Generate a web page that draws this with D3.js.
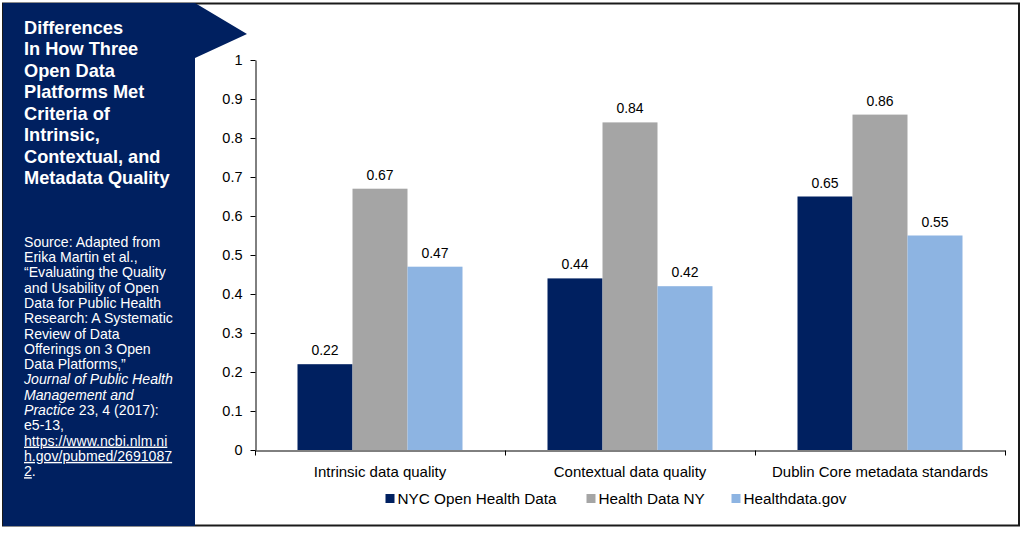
<!DOCTYPE html>
<html><head><meta charset="utf-8">
<script src="https://cdn.jsdelivr.net/npm/d3@7"></script>
<style>body{margin:0;background:#fff}svg{display:block;font-family:"Liberation Sans",Arial,sans-serif}</style>
</head><body>
<svg id="c" width="1024" height="533"></svg>
<script>
const categories = ["Intrinsic data quality", "Contextual data quality", "Dublin Core metadata standards"];
const seriesNames = ["NYC Open Health Data", "Health Data NY", "Healthdata.gov"];
const nycValues = [0.22, 0.44, 0.65];
const nyValues = [0.67, 0.84, 0.86];
const govValues = [0.47, 0.42, 0.55];
const yTicks = [0, 0.1, 0.2, 0.3, 0.4, 0.5, 0.6, 0.7, 0.8, 0.9, 1];
const titleLines = ["Differences", "In How Three", "Open Data", "Platforms Met", "Criteria of", "Intrinsic,", "Contextual, and", "Metadata Quality"];
const colors = ["#002060", "#a5a5a5", "#8db4e2"];
const series = [nycValues, nyValues, govValues];

const svg = d3.select("#c");
const navy = "#002060";

// outer frame
svg.append("rect").attr("x",3).attr("y",3.5).attr("width",1016).attr("height",522)
  .attr("fill","#fff").attr("stroke","#1a1a1a").attr("stroke-width",2);

// left panel with arrow
svg.append("path").attr("fill", navy)
  .attr("d","M3,3 L195,3 L247,34 L195,58 L195,526 L3,526 Z");

// title
const tt = svg.append("text").attr("fill","#fff").attr("font-weight","bold").attr("font-size",18.2);
titleLines.forEach((l,i)=>tt.append("tspan").attr("x",24).attr("y",34+i*21.45).text(l));

// source text
const src = svg.append("text").attr("fill","#fff").attr("font-size",14.1);
const srcLines = [
  [["Source: Adapted from"]],
  [["Erika Martin et al.,"]],
  [["\u201cEvaluating the Quality"]],
  [["and Usability of Open"]],
  [["Data for Public Health"]],
  [["Research: A Systematic"]],
  [["Review of Data"]],
  [["Offerings on 3 Open"]],
  [["Data Platforms,\u201d"]],
  [["Journal of Public Health","i"]],
  [["Management and","i"]],
  [["Practice","i"],[" 23, 4 (2017):"]],
  [["e5-13,"]],
  [["https://www.ncbi.nlm.ni","u"]],
  [["h.gov/pubmed/2691087","u"]],
  [["2","u"],["."]]
];
srcLines.forEach((parts,i)=>{
  parts.forEach((p,j)=>{
    const ts = src.append("tspan").text(p[0]);
    if(j===0) ts.attr("x",24).attr("y",246.7+i*15.3);
    if(p[1]==="i") ts.attr("font-style","italic");
    if(p[1]==="u") ts.attr("text-decoration","underline");
  });
});

// chart
const x0 = d3.scaleBand().domain(categories).range([255,1005]).padding(0);
const x1 = d3.scaleBand().domain(seriesNames).range([42.5, x0.bandwidth()-42.5]).padding(0);
const y = d3.scaleLinear().domain([0,1]).range([450,60]);

const g = svg.append("g");
categories.forEach((c,ci)=>{
  seriesNames.forEach((s,si)=>{
    const v = series[si][ci];
    g.append("rect").attr("x",x0(c)+x1(s)).attr("y",y(v))
      .attr("width",x1.bandwidth()).attr("height",y(0)-y(v)).attr("fill",colors[si]);
    g.append("text").attr("x",x0(c)+x1(s)+x1.bandwidth()/2).attr("y",y(v)-9)
      .attr("text-anchor","middle").attr("font-size",14).attr("fill","#000").text(v.toFixed(2));
  });
});

// y axis
const ya = svg.append("g").attr("transform","translate(255.5,0)")
  .call(d3.axisLeft(y).tickValues(yTicks).tickFormat(d=>d3.format("")(+d.toFixed(1))).tickSize(5).tickSizeOuter(0).tickPadding(8));
ya.select(".domain").attr("stroke","#000");
ya.selectAll(".tick line").attr("stroke","#000");
ya.selectAll("text").attr("font-size",14.5).attr("fill","#000").attr("font-family","Liberation Sans, Arial, sans-serif");

// x axis
const xa = svg.append("g").attr("transform","translate(0,450.5)")
  .call(d3.axisBottom(x0).tickSize(0).tickPadding(16));
xa.select(".domain").attr("stroke","#000");
xa.selectAll("text").attr("font-size",15).attr("fill","#000").attr("font-family","Liberation Sans, Arial, sans-serif");
// category separator ticks
const sepTicks = [255, ...categories.map(c=>x0(c)+x0.bandwidth())];
xa.selectAll(".sep").data(sepTicks).enter().append("line").attr("class","sep")
  .attr("x1",d=>d+0.5).attr("x2",d=>d+0.5).attr("y1",0).attr("y2",5).attr("stroke","#000");

// legend
const legX = [385.5, 586.5, 731.5];
const leg = svg.append("g");
seriesNames.forEach((s,i)=>{
  leg.append("rect").attr("x",legX[i]).attr("y",494).attr("width",9).attr("height",9).attr("fill",colors[i]);
  leg.append("text").attr("x",legX[i]+12).attr("y",504).attr("font-size",15.3).attr("fill","#000").text(s);
});
</script>
</body></html>
